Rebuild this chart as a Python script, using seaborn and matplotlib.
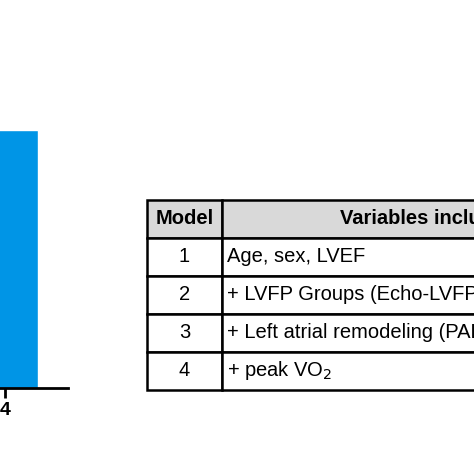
import matplotlib
matplotlib.use("Agg")
import matplotlib.pyplot as plt
import seaborn as sns
import pandas as pd

# bar values per model (only model 4 is visible in the crop)
models = ["1", "2", "3", "4"]
values = [0.62, 0.68, 0.71, 0.74]

# table contents
table_header = ["Model", "Variables included"]
table_models = ["1", "2", "3", "4"]
table_vars = ["Age, sex, LVEF",
              "+ LVFP Groups (Echo-LVFP)",
              "+ Left atrial remodeling (PALS)",
              "+ peak VO$_2$"]

sns.set_theme(style="white")
plt.rcParams['font.family'] = ['Liberation Sans', 'DejaVu Sans']
plt.rcParams['text.color'] = 'black'
plt.rcParams['xtick.color'] = 'black'

W = 474
fig = plt.figure(figsize=(4.74, 4.74), dpi=100)

# bar axes, mostly off-canvas to the left
ax = fig.add_axes([-490 / W, 86 / W, 558 / W, 348 / W])
df = pd.DataFrame({"model": models, "value": values})
sns.barplot(data=df, x="model", y="value", color="#0095e6", width=0.6,
            saturation=1, ax=ax)
ax.set_xlim(-1.5, 3.57)
ax.set_ylim(0, 1)
for s in ["left", "top", "right"]:
    ax.spines[s].set_visible(False)
ax.spines["bottom"].set_color("black")
ax.spines["bottom"].set_linewidth(2)
ax.set_yticks([])
ax.set_xlabel("")
ax.set_ylabel("")
ax.tick_params(axis="x", bottom=True, length=7, width=2, color="black",
               labelsize=14, pad=3, labelcolor="black")
for t in ax.get_xticklabels():
    t.set_fontweight("bold")
# significance bracket end
ax.plot([1.0, 2.05, 2.05], [0.862, 0.862, 0.80], color="black", lw=2.5,
        clip_on=False)

# table
tax = fig.add_axes([147 / W, 84 / W, 487 / W, 190 / W])
tax.axis("off")
cells = [[m, v] for m, v in zip(table_models, table_vars)]
tbl = tax.table(cellText=cells, colLabels=table_header, bbox=[0, 0, 1, 1],
                colWidths=[75, 412], cellLoc="center")
tbl.auto_set_font_size(False)
for (r, c), cell in tbl.get_celld().items():
    cell.set_linewidth(1.8)
    cell.set_edgecolor("black")
    cell.get_text().set_fontsize(14.5)
    cell.get_text().set_color("black")
    if r == 0:
        cell.set_facecolor("#d9d9d9")
        cell.get_text().set_fontweight("bold")
    elif c == 1:
        cell.get_text().set_ha("left")
        cell._loc = "left"
        cell.PAD = 0.012

fig.savefig("out.png", dpi=100)
